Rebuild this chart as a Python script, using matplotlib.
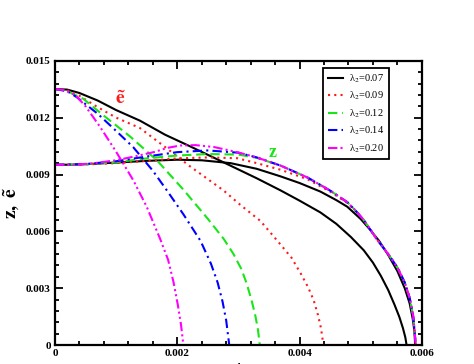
import numpy as np
import matplotlib
matplotlib.use('Agg')
import matplotlib.pyplot as plt
from matplotlib.ticker import MultipleLocator, FixedFormatter, FixedLocator

plt.rcParams['font.family'] = ['Liberation Serif', 'DejaVu Serif']
plt.rcParams['mathtext.fontset'] = 'stix'

# values, in units of 1e-3
lambdas = ['0.07', '0.09', '0.12', '0.14', '0.20']
colors = ['black', '#ff1a1a', '#19e619', '#0000ff', '#ff00ff']
styles = ['-', (0, (1, 2)), (0, (4.5, 2.3)), (0, (4.5, 2, 1, 2)), (0, (4.5, 1.5, 1, 1.5, 1, 1.5))]

# e-tilde branches
e_x_007 = [0, 0.2, 0.4, 0.7, 1.0, 1.39, 1.8, 2.2, 2.81, 3.3, 3.69, 4.0, 4.34, 4.6, 4.84, 5.05, 5.2, 5.33, 5.45, 5.55, 5.63, 5.69, 5.73, 5.75]
e_y_007 = [13.51, 13.48, 13.3, 12.9, 12.4, 11.84, 11.1, 10.5, 9.56, 8.8, 8.16, 7.62, 7.0, 6.4, 5.7, 5.0, 4.35, 3.65, 2.9, 2.15, 1.5, 0.9, 0.4, 0]
e_x_009 = [0, 0.2, 0.4, 0.7, 1.0, 1.39, 1.8, 2.2, 2.76, 3.03, 3.36, 3.69, 3.87, 4.02, 4.14, 4.23, 4.3, 4.35, 4.39]
e_y_009 = [13.51, 13.45, 13.15, 12.55, 12.0, 11.45, 10.45, 9.45, 8.15, 7.4, 6.55, 5.3, 4.6, 3.77, 3.05, 2.37, 1.6, 0.9, 0]
e_x_012 = [0, 0.2, 0.46, 0.8, 1.23, 1.67, 2.1, 2.49, 2.76, 2.92, 3.05, 3.14, 3.22, 3.28, 3.32, 3.35]
e_y_012 = [13.51, 13.4, 13.0, 12.1, 11.0, 9.74, 8.2, 6.7, 5.6, 4.8, 4.0, 3.2, 2.3, 1.5, 0.8, 0]
e_x_014 = [0, 0.2, 0.36, 0.7, 1.0, 1.28, 1.6, 1.83, 2.1, 2.38, 2.55, 2.66, 2.74, 2.8, 2.85]
e_y_014 = [13.51, 13.4, 13.07, 12.2, 11.3, 10.44, 9.2, 8.16, 6.9, 5.5, 4.3, 3.3, 2.3, 1.3, 0]
e_x_020 = [0, 0.15, 0.33, 0.5, 0.74, 1.0, 1.28, 1.5, 1.72, 1.85, 1.94, 2.01, 2.06, 2.1]
e_y_020 = [13.51, 13.45, 13.2, 12.6, 11.5, 10.2, 8.7, 7.3, 5.6, 4.5, 3.3, 2.1, 1.1, 0]

# z branches
z_x_007 = [0, 0.3, 0.6, 1.0, 1.5, 2.0, 2.4, 2.87, 3.3, 3.69, 4.0, 4.34, 4.6, 4.78, 5.0, 5.15, 5.3, 5.45, 5.6, 5.72, 5.8, 5.85, 5.88, 5.89]
z_y_007 = [9.51, 9.52, 9.56, 9.63, 9.72, 9.78, 9.75, 9.6, 9.3, 8.9, 8.55, 8.1, 7.65, 7.3, 6.65, 6.1, 5.5, 4.75, 3.9, 3.0, 2.2, 1.4, 0.7, 0]
z_x_009 = [0, 0.5, 1.0, 1.5, 2.0, 2.5, 2.98, 3.3, 3.69, 4.13, 4.5, 4.78, 4.9, 5.05, 5.27, 5.45, 5.6, 5.72, 5.8, 5.86, 5.9]
z_y_009 = [9.51, 9.53, 9.6, 9.72, 9.85, 9.9, 9.86, 9.6, 9.25, 8.75, 8.1, 7.5, 7.12, 6.6, 5.55, 4.8, 4.1, 3.3, 2.5, 1.5, 0]
z_x_012 = [0, 0.5, 1.0, 1.5, 2.0, 2.5, 3.0, 3.3, 3.69, 4.13, 4.5, 4.78, 4.9, 5.05, 5.27, 5.45, 5.6, 5.72, 5.8, 5.86, 5.9]
z_y_012 = [9.51, 9.54, 9.65, 9.85, 10.0, 10.08, 10.05, 9.88, 9.47, 8.84, 8.15, 7.54, 7.15, 6.6, 5.55, 4.8, 4.1, 3.3, 2.5, 1.5, 0]
z_x_014 = [0, 0.5, 1.0, 1.5, 2.0, 2.5, 3.0, 3.3, 3.69, 4.13, 4.5, 4.78, 4.9, 5.05, 5.27, 5.45, 5.6, 5.72, 5.8, 5.86, 5.9]
z_y_014 = [9.51, 9.55, 9.7, 9.95, 10.18, 10.27, 10.15, 9.9, 9.47, 8.84, 8.15, 7.54, 7.15, 6.6, 5.55, 4.8, 4.1, 3.3, 2.5, 1.5, 0]
z_x_020 = [0, 0.3, 0.6, 1.0, 1.3, 1.64, 1.83, 2.05, 2.3, 2.6, 2.98, 3.3, 3.69, 4.13, 4.5, 4.78, 4.9, 5.05, 5.27, 5.45, 5.6, 5.72, 5.8, 5.86, 5.9]
z_y_020 = [9.51, 9.52, 9.58, 9.75, 9.95, 10.2, 10.4, 10.53, 10.55, 10.45, 10.18, 9.9, 9.47, 8.84, 8.15, 7.54, 7.15, 6.6, 5.55, 4.8, 4.1, 3.3, 2.5, 1.5, 0]

e_curves = [(e_x_007, e_y_007), (e_x_009, e_y_009), (e_x_012, e_y_012), (e_x_014, e_y_014), (e_x_020, e_y_020)]
z_curves = [(z_x_007, z_y_007), (z_x_009, z_y_009), (z_x_012, z_y_012), (z_x_014, z_y_014), (z_x_020, z_y_020)]

x_ticks = [0, 0.002, 0.004, 0.006]
x_labels = ['0', '0.002', '0.004', '0.006']
y_ticks = [0, 0.003, 0.006, 0.009, 0.012, 0.015]
y_labels = ['0', '0.003', '0.006', '0.009', '0.012', '0.015']

fig = plt.figure(figsize=(4.74, 3.64), dpi=100)
ax = fig.add_axes([0.116, 0.052, 0.774, 0.781])

for i in range(5):
    ex, ey = e_curves[i]
    zx, zy = z_curves[i]
    ax.plot(np.array(ex) * 1e-3, np.array(ey) * 1e-3, color=colors[i], linestyle=styles[i], lw=1.5,
            label=r'λ$_2$=' + lambdas[i])
    ax.plot(np.array(zx) * 1e-3, np.array(zy) * 1e-3, color=colors[i], linestyle=styles[i], lw=1.5)

ax.set_xlim(0, 0.006)
ax.set_ylim(0, 0.015)
ax.xaxis.set_major_locator(FixedLocator(x_ticks))
ax.xaxis.set_major_formatter(FixedFormatter(x_labels))
ax.yaxis.set_major_locator(FixedLocator(y_ticks))
ax.yaxis.set_major_formatter(FixedFormatter(y_labels))
ax.xaxis.set_minor_locator(MultipleLocator(0.0004))
ax.yaxis.set_minor_locator(MultipleLocator(0.0006))
ax.tick_params(which='both', direction='in', top=True, right=True, width=1.3)
ax.tick_params(which='major', length=6, labelsize=8, pad=3)
ax.tick_params(which='minor', length=3)
for lab in ax.get_xticklabels() + ax.get_yticklabels():
    lab.set_fontweight('bold')
for sp in ax.spines.values():
    sp.set_linewidth(1.6)

ax.set_ylabel(r'$\mathbf{z,\ \tilde{e}}$', fontsize=14, labelpad=3)
ax.set_xlabel('t', fontsize=13, fontweight='bold', labelpad=2)

ax.text(0.00108, 0.0130, r'$\mathbf{\tilde{e}}$', color='#ff1a1a', fontsize=14, ha='center', va='center')
ax.text(0.00356, 0.01016, 'z', color='#19e619', fontsize=13, fontweight='bold', ha='center', va='center')

leg = ax.legend(loc='upper right', bbox_to_anchor=(0.91, 0.974), borderaxespad=0, fontsize=7.5,
                handlelength=1.5, handletextpad=0.6, labelspacing=0.48, borderpad=0.4,
                fancybox=False, framealpha=1)
leg.get_frame().set_edgecolor('black')
leg.get_frame().set_linewidth(1.3)

fig.savefig('out.png', dpi=100)
